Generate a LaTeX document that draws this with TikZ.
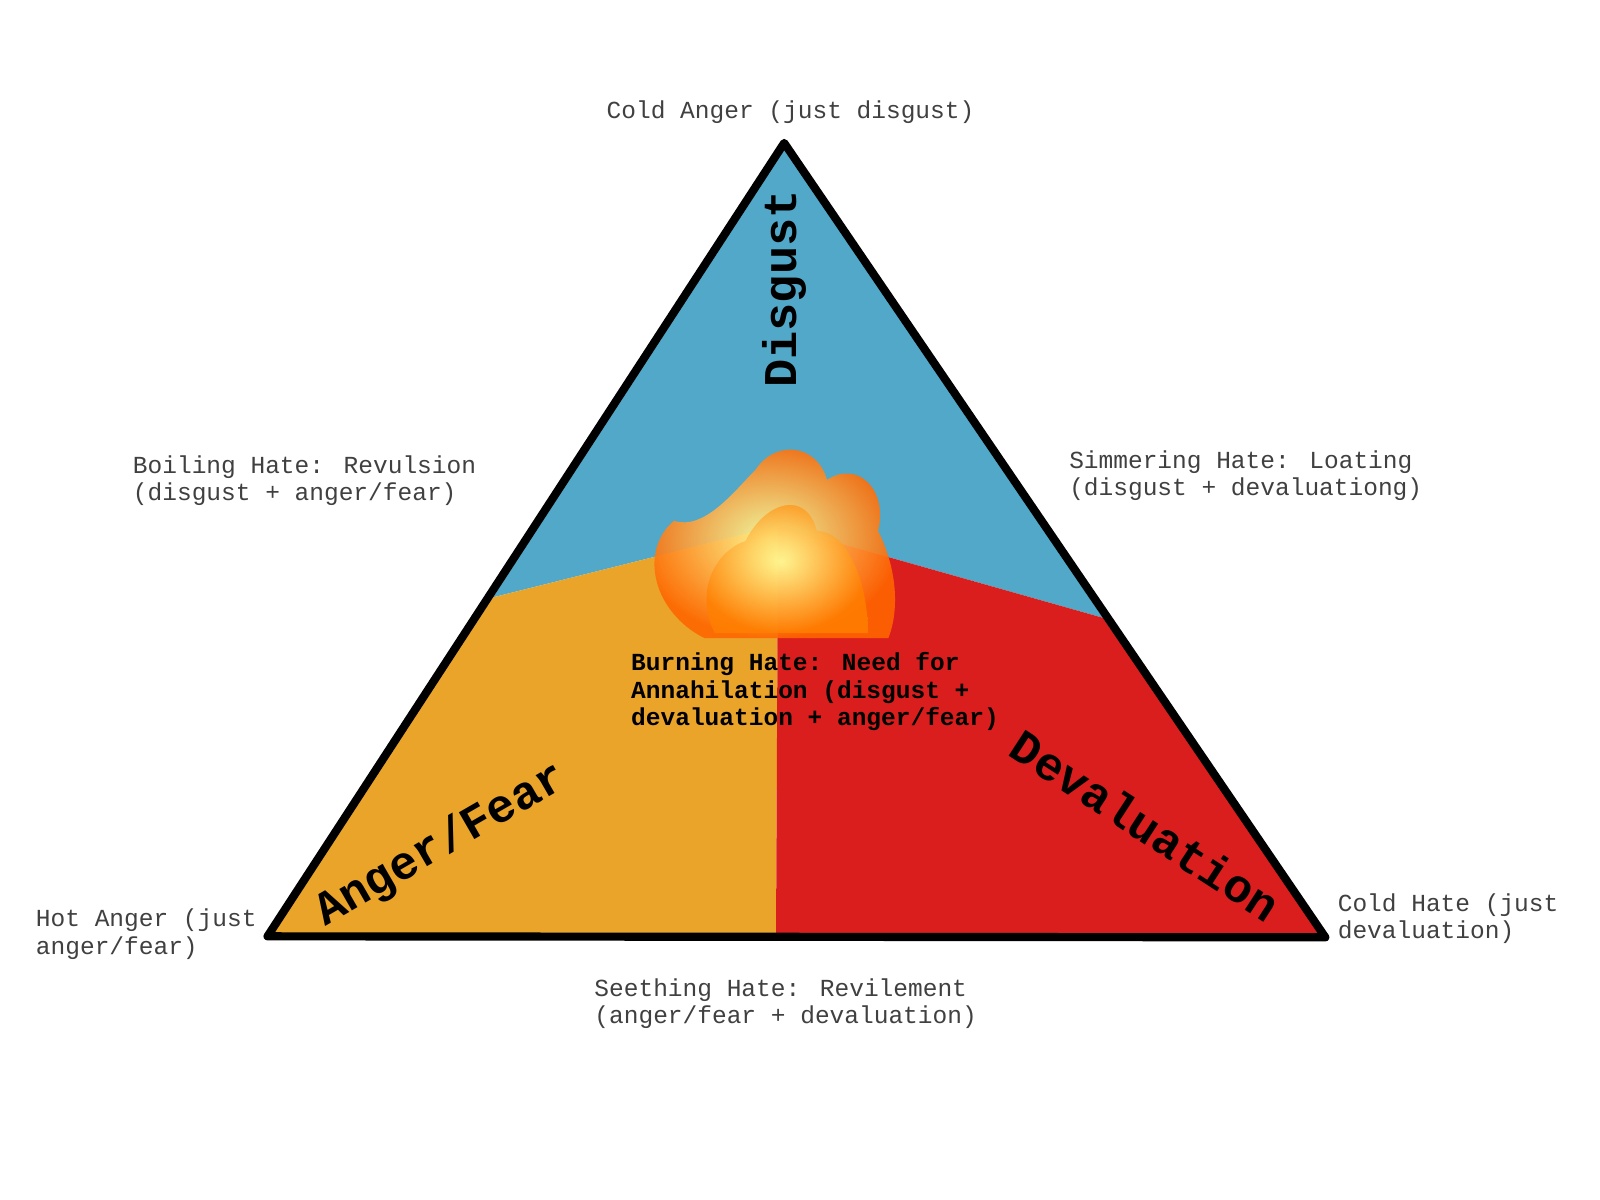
\documentclass[tikz,border=0pt]{standalone}
\usepackage{fontspec}
\setmainfont{Liberation Mono}
\begin{document}
\begin{tikzpicture}[x=1pt,y=-1pt,
  lbl/.style={font=\fontsize{24}{27}\selectfont,text=black!75,align=left,anchor=north west,inner sep=0},
  big/.style={font=\fontsize{46}{46}\selectfont\bfseries,inner sep=0}]
\useasboundingbox (0,0) rectangle (1567,1175);
\definecolor{cblue}{HTML}{52A8C8}
\definecolor{corange}{HTML}{EAA42A}
\definecolor{cred}{HTML}{DA1E1E}
\coordinate (T) at (768,140);
\coordinate (L) at (262,917);
\coordinate (R) at (1298,918);
\coordinate (P) at (483,585);
\coordinate (C) at (762,515);
\coordinate (Q) at (1080,605);
\coordinate (B) at (760,917);
\fill[cblue] (T) -- (P) -- (C) -- (Q) -- cycle;
\fill[corange] (P) -- (C) -- (B) -- (L) -- cycle;
\fill[cred] (C) -- (Q) -- (R) -- (B) -- cycle;
% fire
\begin{scope}
\shade[inner color=yellow!40,outer color=orange!80!red,opacity=0.9] (690,625) .. controls (640,600) and (625,540) .. (660,510) .. controls (690,520) and (720,480) .. (740,460) .. controls (760,430) and (800,435) .. (810,470) .. controls (840,450) and (870,480) .. (860,520) .. controls (880,560) and (880,600) .. (870,625) -- cycle;
\shade[inner color=white!60!yellow,outer color=orange,opacity=0.8] (700,620) .. controls (680,580) and (700,540) .. (730,530) .. controls (750,490) and (790,480) .. (800,520) .. controls (830,520) and (850,570) .. (850,620) -- cycle;
\end{scope}
\draw[line width=8pt,line join=round,line cap=round] (T) -- (L) -- (R) -- cycle;
\node[big,rotate=90] (d) at (768,283) {Disgust};
\node[big,rotate=30] (a) at (432,828) {Anger/Fear};
\node[big,rotate=-33] (v) at (1122,808) {Devaluation};
\node[lbl] (t1) at (594,98) {Cold Anger (just disgust)};
\node[lbl] (t2) at (130,446) {Boiling Hate: Revulsion\\(disgust + anger/fear)};
\node[lbl] (t3) at (1047,441) {Simmering Hate: Loating\\(disgust + devaluationg)};
\node[lbl] (t4) at (35,890) {Hot Anger (just\\anger/fear)};
\node[lbl] (t5) at (1310,875) {Cold Hate (just\\devaluation)};
\node[lbl] (t6) at (582,958) {Seething Hate: Revilement\\(anger/fear + devaluation)};
\node[lbl,text=black,font=\fontsize{24}{27}\selectfont\bfseries] (t7) at (618,639) {Burning Hate: Need for\\Annahilation (disgust +\\devaluation + anger/fear)};
\end{tikzpicture}
\end{document}
